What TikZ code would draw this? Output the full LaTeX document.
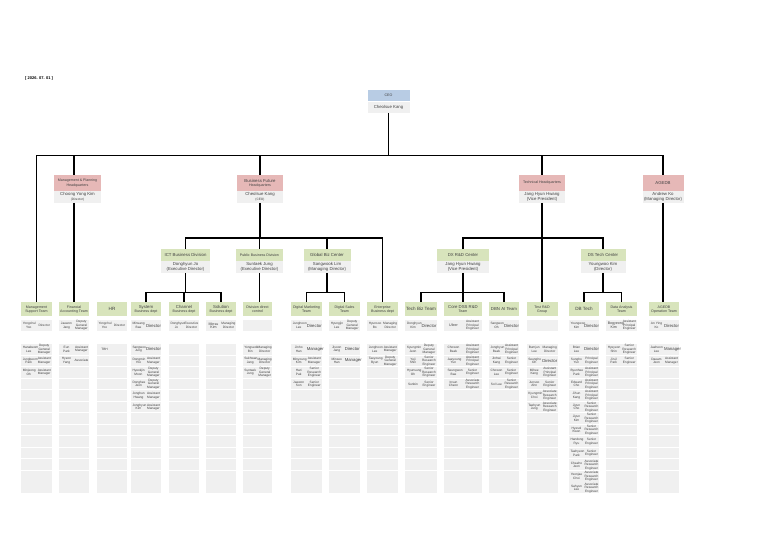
\documentclass[tikz,border=0pt]{standalone}
\usepackage{fontspec}
\setmainfont{Liberation Sans}
\definecolor{hgreen}{HTML}{D8E4BC}
\definecolor{hpink}{HTML}{E6B8B7}
\definecolor{hblue}{HTML}{B8CCE4}
\definecolor{lgray}{HTML}{F0F0F0}
\definecolor{txt}{HTML}{404040}
\newcommand\fA{\fontsize{3.2}{3.5}\selectfont\hyphenpenalty=10000\exhyphenpenalty=10000}
\newcommand\fB{\fontsize{3.6}{4.1}\selectfont}
\newcommand\fC{\fontsize{4.3}{4.8}\selectfont}
\newcommand\fD{\fontsize{4.6}{5}\selectfont}
\tikzset{
 wire/.style={line width=1.2pt, black},
 topbox/.style={anchor=north, inner sep=0.5pt, align=center, text=txt, font=\fB},
 greybox/.style={anchor=north, inner sep=0.5pt, align=center, text=txt, fill=lgray, font=\fC},
 colhdr/.style={anchor=north, fill=hgreen, inner sep=0.5pt, align=center, text=txt, font=\fB, minimum height=14pt},
 ncell/.style={inner sep=0pt, align=center, text=txt, font=\fA, text width=12pt},
 tcell/.style={inner sep=0pt, align=center, text=txt, font=\fA, text width=15pt},
}
\newcommand\orgcol[7]{%
 \node[colhdr, minimum width=#3pt] (#1) at (#2,302) {#4};
 \node[anchor=north, fill=lgray, minimum width=#3pt, minimum height=11pt, inner sep=0pt] (#1-h) at (#2,320) {};
 \node[ncell] (#1-hn) at ({#2-#3/4},325.5) {#5};
 \node[tcell] (#1-ht) at ({#2+#3/4},325.5) {#6};
 \foreach \k in {0,...,12}{\fill[lgray] ({#2-#3/2},{344+\k*11.54}) rectangle ++(#3,10.6);}
 \foreach \a/\b [count=\k from 0] in {#7}{%
   \node[ncell] (#1-n\k) at ({#2-#3/4},{349.3+\k*11.54}) {\a};
   \node[tcell] (#1-t\k) at ({#2+#3/4},{349.3+\k*11.54}) {\b};}
}
\begin{document}
\begin{tikzpicture}[x=1pt,y=-1pt]
\useasboundingbox (0,0) rectangle (768,543);
\node[anchor=west, inner sep=0pt, font=\fontsize{4}{4.5}\selectfont\bfseries] (date) at (25,78) {[ 2026. 07. 01 ]};
\coordinate (bus) at (0,155.7);
\coordinate (busb) at (0,238);
\coordinate (busc) at (0,292.7);
% CEO
\node[topbox, fill=hblue, minimum width=42pt, minimum height=11pt] (ceo) at (388.5,90) {CEO};
\node[greybox, minimum width=42pt, minimum height=11pt] (ceo-g) at (ceo.south) {Cheolsue Kang};
% level 2
\node[topbox, fill=hpink, minimum width=47pt, minimum height=15.7pt] (mp) at (77.5,175) {Management \& Planning\\Headquarters};
\node[greybox, minimum width=47pt, minimum height=11.3pt] (mp-g) at (mp.south) {Choong Yong Kim\\{\fA(Director)}};
\node[topbox, fill=hpink, minimum width=46pt, minimum height=15.7pt] (bf) at (260,175) {\fC Business Future\\Headquarters};
\node[greybox, minimum width=46pt, minimum height=11.3pt] (bf-g) at (bf.south) {Cheolsue Kang\\{\fA(CEO)}};
\node[topbox, fill=hpink, minimum width=46pt, minimum height=15.7pt] (tech) at (542,175) {Technical Headquarters};
\node[greybox, minimum width=46pt, minimum height=11.3pt] (tech-g) at (tech.south) {Jang Hyun Hwang\\(Vice President)};
\node[topbox, fill=hpink, minimum width=41pt, minimum height=15.7pt] (agedb) at (663,175) {\fC AGEDB};
\node[greybox, minimum width=41pt, minimum height=11.3pt] (agedb-g) at (agedb.south) {Andrew Ko\\(Managing Director)};
% level 3
\node[topbox, fill=hgreen, minimum width=49pt, minimum height=11.7pt] (ict) at (185.5,249) {\fC ICT Business Division};
\node[greybox, minimum width=49pt, minimum height=11.3pt] (ict-g) at (ict.south) {Donghyun Jo\\(Executive Director)};
\node[topbox, fill=hgreen, minimum width=47pt, minimum height=11.7pt] (pub) at (259.5,249) {Public Business Division};
\node[greybox, minimum width=47pt, minimum height=11.3pt] (pub-g) at (pub.south) {Suntaek Jung\\(Executive Director)};
\node[topbox, fill=hgreen, minimum width=47pt, minimum height=11.7pt] (glob) at (327,249) {\fC Global Biz Center};
\node[greybox, minimum width=47pt, minimum height=11.3pt] (glob-g) at (glob.south) {Sangwook Lim\\(Managing Director)};
\node[topbox, fill=hgreen, minimum width=52pt, minimum height=11.7pt] (dx) at (463,249) {\fC DX R\&D Center};
\node[greybox, minimum width=52pt, minimum height=11.3pt] (dx-g) at (dx.south) {Jang Hyun Hwang\\(Vice President)};
\node[topbox, fill=hgreen, minimum width=45pt, minimum height=11.7pt] (ds) at (603,249) {\fC DS Tech Center};
\node[greybox, minimum width=45pt, minimum height=11.3pt] (ds-g) at (ds.south) {Youngwoo Kim\\(Director)};
% columns
\orgcol{c1}{36.5}{31}{Management\\Support Team}{Yongchul Yoo}{Director}{Hanabeom Lee/Deputy General Manager, Jungbeom Park/Assistant Manager, Minjeong Oh/Assistant Manager}
\orgcol{c2}{74}{30}{Financial\\Accounting Team}{Jaewon Jang}{Deputy General Manager}{Eun Park/Assistant Manager, Hyeon Yang/Associate}
\orgcol{c3}{112}{30}{\fD HR}{Yongchul Yoo}{Director}{TBH/}
\orgcol{c4}{146}{30}{\fC System\\Business dept}{Minsang Bae}{\fC Director}{Sangwoo Jung/{\fC Director}, Dongmin Yoo/Assistant Manager, Hyeokjin Moon/Deputy General Manager, Donghee Jeon/Deputy General Manager, Jonghun Hwang/Assistant Manager, Jonghyun Kim/Assistant Manager}
\orgcol{c5}{184}{30}{\fC Channel\\Business dept}{Donghyun Jo}{Executive Director}{/}
\orgcol{c6}{221}{30}{\fC Solution\\Business dept}{\fB Minsu Kim}{Managing Director}{/}
\orgcol{c7}{257.5}{29}{Division direct\\control}{}{}{Yongseok Bin/Managing Director, Sukhwan Jang/Managing Director, Suntaek Jung/Deputy General Manager}
\orgcol{c8}{306.5}{31}{Digital Marketing\\Team}{Junghoon Lee}{\fC Director}{Jinho Han/{\fC Manager}, Minyoung Kim/Assistant Manager, Hari Pak/Senior Research Engineer, Jaewon Son/Senior Engineer}
\orgcol{c9}{344.5}{31}{Digital Sales\\Team}{Hyungjin Lee}{Deputy General Manager}{Jisoon Jang/{\fC Director}, Minseo Han/{\fC Manager}}
\orgcol{c10}{382.5}{31}{Enterprise\\Business dept}{Hyunsoo Bo}{Managing Director}{Junghoon Lee/Assistant Manager, Taeyoung Byun/Deputy General Manager}
\orgcol{c11}{421}{32}{\fD Tech Biz Team}{Donghyun Kim}{\fC Director}{Kyungmin Jeon/Deputy General Manager, Yeji Shin/Senior Research Engineer, Hyunsung Oh/Senior Research Engineer, Sunbin/Senior Engineer}
\orgcol{c12}{463}{38}{\fC Core DSS R\&D\\Team}{\fB Uleer}{Assistant Principal Engineer}{Chowon Baek/Assistant Principal Engineer, Jaeyoung Yun/Assistant Principal Engineer, Seungwon Bae/Senior Engineer, Insun Cheon/Associate Research Engineer}
\orgcol{c13}{504}{30}{\fC DBN AI Team}{Sangwon Oh}{\fC Director}{Jonghyun Baek/Assistant Principal Engineer, Jinhwi Kang/Senior Engineer, Chowon Lee/Senior Engineer, Sol Lee/Senior Research Engineer}
\orgcol{c14}{542}{31}{Test R\&D\\Group}{}{}{Bumjun Lee/Managing Director, Seungho Oh/{\fC Director}, Mihee Kang/Assistant Principal Engineer, Junsoo Ahn/Senior Engineer, Kyungmin Choi/Associate Research Engineer, Taehyun Jung/Associate Research Engineer}
\orgcol{c15}{584}{30}{\fD DB Tech}{Youngwoo Kim}{\fC Director}{Brian Lee/{\fC Director}, Sungho Yun/Principal Engineer, Byunhee Park/Assistant Principal Engineer, Edward Cho/Assistant Principal Engineer, Jihun Kang/Assistant Principal Engineer, Jiyun Cho/Senior Research Engineer, Jiyun Kim/Senior Research Engineer, Hyesol Kwon/Senior Research Engineer, Handong Ryu/Senior Engineer, Taehyeon Park/Senior Engineer, Chaeho Jeon/Associate Research Engineer, Yeonjae Choi/Associate Research Engineer, Sahyun Lee/Associate Research Engineer}
\orgcol{c16}{621.5}{31}{Data Analysis\\Team}{\fB Bogyeong Kim}{Assistant Principal Engineer}{Hyeyeon Shin/Senior Research Engineer, Jin-il Park/Senior Engineer}
\orgcol{c17}{664}{30}{AGEDB\\Operation Team}{An Ying Ko}{\fC Director}{Jaeheon Lee/{\fC Manager}, Daeam Jeon/Assistant Manager}
% connectors
\draw[wire] (c1.north) -- (c1.north |- bus) -- (agedb.north |- bus) -- (agedb.north);
\draw[wire] (ceo-g.south) -- (ceo-g.south |- bus);
\draw[wire] (c2.north |- bus) -- (c2.north |- mp.north);
\draw[wire] (c2.north |- mp-g.south) -- (c2.north);
\draw[wire] (bf.north |- bus) -- (bf.north);
\draw[wire] (tech.north |- bus) -- (tech.north);
\draw[wire] (agedb-g.south) -- (agedb-g.south |- c17.north);
\draw[wire] (bf-g.south) -- (bf-g.south |- busb);
\draw[wire] (ict.north) -- (ict.north |- busb) -- (c10.north |- busb) -- (c10.north);
\draw[wire] (pub.north |- busb) -- (pub.north);
\draw[wire] (glob.north |- busb) -- (glob.north);
\draw[wire] (pub-g.south) -- (pub-g.south |- c7.north);
\draw[wire] (ict-g.south) -- (ict-g.south |- busc);
\draw[wire] (c4.north) -- (c4.north |- busc) -- (c6.north |- busc) -- (c6.north);
\draw[wire] (c5.north |- busc) -- (c5.north);
\draw[wire] (glob-g.south) -- (glob-g.south |- busc);
\draw[wire] (c8.north) -- (c8.north |- busc) -- (c9.north |- busc) -- (c9.north);
\draw[wire] (tech-g.south) -- (tech-g.south |- busb);
\draw[wire] (dx.north) -- (dx.north |- busb) -- (ds.north |- busb) -- (ds.north);
\draw[wire] (c14.north |- busb) -- (c14.north);
\draw[wire] (dx-g.south) -- (dx-g.south |- busc);
\draw[wire] (c11.north) -- (c11.north |- busc) -- (c13.north |- busc) -- (c13.north);
\draw[wire] (c12.north |- busc) -- (c12.north);
\draw[wire] (ds-g.south) -- (ds-g.south |- busc);
\draw[wire] (c15.north) -- (c15.north |- busc) -- (c16.north |- busc) -- (c16.north);
\end{tikzpicture}
\end{document}
